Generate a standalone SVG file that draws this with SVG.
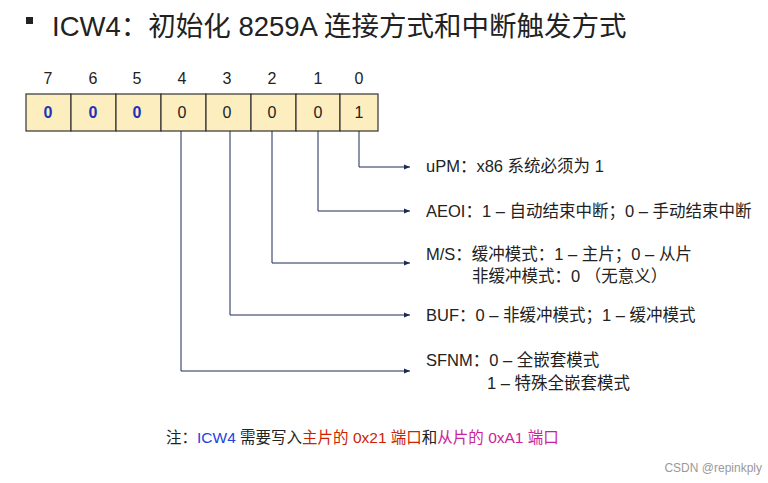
<svg xmlns="http://www.w3.org/2000/svg" width="768" height="483" viewBox="0 0 768 483">
<style>
text{font-family:"Liberation Sans","Noto Sans CJK SC",sans-serif;fill:#222}
.t{font-size:27.5px}
.n{font-size:16px;text-anchor:middle}
.c{fill:#fdeec0;stroke:#333;stroke-width:1.2}
.b{fill:#2233bb;font-weight:bold}
.l{font-size:16.5px}
.w{fill:none;stroke:#1a2a55;stroke-width:1}
</style>
<defs><marker id="a" viewBox="0 0 10 10" refX="10" refY="5" markerWidth="6" markerHeight="6" orient="auto"><path d="M0,1L10,5L0,9z" fill="#1a2a55"/></marker></defs>
<rect x="26" y="17" width="7" height="7" fill="#222"/>
<text class="t" x="52" y="36">ICW4：初始化 8259A 连接方式和中断触发方式</text>
<g id="bits">
<text class="n" x="48" y="84">7</text><text class="n" x="93" y="84">6</text><text class="n" x="137" y="84">5</text><text class="n" x="182" y="84">4</text><text class="n" x="227" y="84">3</text><text class="n" x="272" y="84">2</text><text class="n" x="318" y="84">1</text><text class="n" x="359" y="84">0</text>
<rect class="c" x="26" y="94" width="45" height="37"/><rect class="c" x="71" y="94" width="45" height="37"/><rect class="c" x="116" y="94" width="45" height="37"/><rect class="c" x="161" y="94" width="45" height="37"/><rect class="c" x="206" y="94" width="45" height="37"/><rect class="c" x="251" y="94" width="45" height="37"/><rect class="c" x="296" y="94" width="44" height="37"/><rect class="c" x="340" y="94" width="38" height="37"/>
<text class="n b" x="48" y="118">0</text><text class="n b" x="93" y="118">0</text><text class="n b" x="137" y="118">0</text><text class="n" x="182" y="118">0</text><text class="n" x="227" y="118">0</text><text class="n" x="272" y="118">0</text><text class="n" x="318" y="118">0</text><text class="n" x="359" y="118">1</text>
</g>
<g id="connectors">
<path class="w" d="M359,131V167H410" marker-end="url(#a)"/>
<path class="w" d="M318,131V211H410" marker-end="url(#a)"/>
<path class="w" d="M272,131V263H410" marker-end="url(#a)"/>
<path class="w" d="M230,131V315H410" marker-end="url(#a)"/>
<path class="w" d="M181,131V371H410" marker-end="url(#a)"/>
</g>
<g id="labels">
<text class="l" x="426" y="172">uPM：x86 系统必须为 1</text>
<text class="l" x="426" y="217">AEOI：1 – 自动结束中断；0 – 手动结束中断</text>
<text class="l" x="426" y="260">M/S：缓冲模式：1 – 主片；0 – 从片</text>
<text class="l" x="472" y="282">非缓冲模式：0 （无意义）</text>
<text class="l" x="426" y="321">BUF：0 – 非缓冲模式；1 – 缓冲模式</text>
<text class="l" x="426" y="366">SFNM：0 – 全嵌套模式</text>
<text class="l" x="487" y="389">1 – 特殊全嵌套模式</text>
</g>
<text x="166" y="443" style="font-size:15.5px">注：<tspan fill="#2244dd">ICW4</tspan> 需要写入<tspan fill="#cc2200">主片的 0x21 端口</tspan>和<tspan fill="#cc2299">从片的 0xA1 端口</tspan></text>
<text x="762" y="472" text-anchor="end" style="font-size:12px;fill:#999">CSDN @repinkply</text>
</svg>
